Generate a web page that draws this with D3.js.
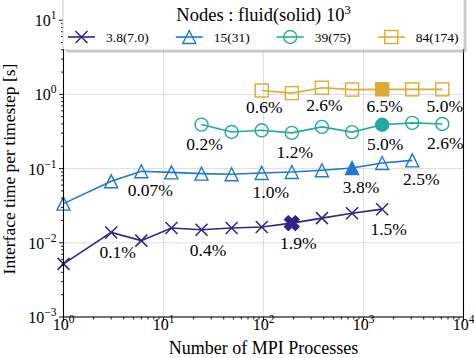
<!DOCTYPE html>
<meta charset="utf-8">
<script src="https://d3js.org/d3.v7.min.js"></script>
<style>
  body { margin: 0; background: #fff; }
</style>
<div id="chart"></div>
<script>

// MPI process counts used by the runs
var procs = [1, 3, 6, 12, 24, 48, 96, 192, 384, 768, 1536, 3072, 6144];

// legend labels, nodes fluid(solid) x 10^3
var seriesNames = ["3.8(7.0)", "15(31)", "39(75)", "84(174)"];

// interface time per timestep [s]
var purpleY = [0.0052, 0.0138, 0.0107, 0.0158, 0.0150, 0.0158, 0.0163, 0.0184, 0.0215, 0.0250, 0.0284];
var blueY   = [0.0337, 0.0674, 0.092, 0.089, 0.0856, 0.084, 0.0874, 0.090, 0.095, 0.102, 0.119, 0.129];
var tealY   = [0.392, 0.312, 0.328, 0.303, 0.365, 0.310, 0.390, 0.413, 0.400];
var goldY   = [1.13, 1.04, 1.23, 1.16, 1.17, 1.17, 1.17];

// first process count of each series
var firstProc = [1, 1, 24, 96];

// run shown with a filled marker
var filledProc = [192, 768, 1536, 1536];

// percentage notes under some points
var purpleNotes = [[3, "0.1%"], [24, "0.4%"], [192, "1.9%"], [1536, "1.5%"]];
var blueNotes   = [[6, "0.07%"], [96, "1.0%"], [768, "3.8%"], [3072, "2.5%"]];
var tealNotes   = [[24, "0.2%"], [192, "1.2%"], [1536, "5.0%"], [6144, "2.6%"]];
var goldNotes   = [[96, "0.6%"], [384, "2.6%"], [1536, "6.5%"], [6144, "5.0%"]];

var colors  = ["#332288", "#1f77d4", "#22aa9f", "#ddaa33"];
var markers = ["x", "tri", "circle", "square"];
var noteShift = [[6.5, 26], [9, 25], [3, 25], [2.5, 23]];

var allY = [purpleY, blueY, tealY, goldY];
var allNotes = [purpleNotes, blueNotes, tealNotes, goldNotes];

var W = 474, H = 358;
var left = 63.5, right = 463.5, bottom = 317, decade = 74.2;
var yMin = 1e-3, yMax = 20;

var x = d3.scaleLog().domain([1, 1e4]).range([left, right]);
var y = d3.scaleLog().domain([yMin, yMax])
  .range([bottom, bottom - decade * Math.log10(yMax / yMin)]);
var yTop = y(yMax);

var svg = d3.select("#chart").append("svg")
  .attr("width", W).attr("height", H)
  .attr("font-family", "'Liberation Serif', 'Times New Roman', serif");

// grid
var xMajor = [1, 10, 100, 1000, 10000];
var yMajor = [1e-3, 1e-2, 1e-1, 1, 10];
svg.append("g").selectAll("line").data(xMajor.slice(1, -1)).enter().append("line")
  .attr("x1", d => x(d)).attr("x2", d => x(d)).attr("y1", yTop).attr("y2", bottom)
  .attr("stroke", "#dedede").attr("stroke-width", 1);
svg.append("g").selectAll("line").data(yMajor.slice(1)).enter().append("line")
  .attr("y1", d => y(d)).attr("y2", d => y(d)).attr("x1", left).attr("x2", right)
  .attr("stroke", "#dedede").attr("stroke-width", 1);

function drawMarker(g, type, filled, color) {
  var fill = filled ? color : "none";
  if (type == "x") {
    if (filled) {
      g.append("path")
        .attr("d", "M-2.8,-7.8L2.8,-7.8L2.8,-2.8L7.8,-2.8L7.8,2.8L2.8,2.8L2.8,7.8L-2.8,7.8L-2.8,2.8L-7.8,2.8L-7.8,-2.8L-2.8,-2.8Z")
        .attr("transform", "rotate(45)")
        .attr("fill", color).attr("stroke", color).attr("stroke-width", 1).attr("stroke-linejoin", "round");
    } else {
      g.append("path").attr("d", "M-6,-6L6,6M-6,6L6,-6")
        .attr("stroke", color).attr("stroke-width", 1.5).attr("fill", "none");
    }
  } else if (type == "tri") {
    g.append("path").attr("d", "M0,-6.5L6.5,6.5L-6.5,6.5Z")
      .attr("stroke", color).attr("stroke-width", 1.4).attr("fill", fill);
  } else if (type == "circle") {
    g.append("circle").attr("r", 6.5)
      .attr("stroke", color).attr("stroke-width", 1.4).attr("fill", fill);
  } else {
    g.append("rect").attr("x", -6.5).attr("y", -6.5).attr("width", 13).attr("height", 13)
      .attr("stroke", color).attr("stroke-width", 1.4).attr("fill", fill);
  }
}

var line = d3.line().x(d => x(d[0])).y(d => y(d[1]));

allY.forEach(function(vals, i) {
  var start = procs.indexOf(firstProc[i]);
  var pts = vals.map(function(v, k) { return [procs[start + k], v]; });
  var g = svg.append("g");
  g.append("path").datum(pts).attr("d", line)
    .attr("fill", "none").attr("stroke", colors[i]).attr("stroke-width", 1.6);
  pts.forEach(function(p) {
    var m = g.append("g").attr("transform", "translate(" + x(p[0]) + "," + y(p[1]) + ")");
    drawMarker(m, markers[i], p[0] == filledProc[i], colors[i]);
  });
  allNotes[i].forEach(function(n) {
    var v = vals[procs.indexOf(n[0]) - start];
    g.append("text")
      .attr("x", x(n[0]) + noteShift[i][0]).attr("y", y(v) + noteShift[i][1])
      .attr("text-anchor", "middle").attr("font-size", 17.5)
      .text(n[1]);
  });
});

// frame
svg.append("rect").attr("x", left).attr("y", yTop).attr("width", right - left).attr("height", bottom - yTop)
  .attr("fill", "none").attr("stroke", "#000").attr("stroke-width", 1.1);

// ticks
function minors(lo, hi) {
  var out = [];
  for (var e = Math.floor(Math.log10(lo)); e <= Math.ceil(Math.log10(hi)); e++)
    for (var k = 2; k < 10; k++) {
      var v = k * Math.pow(10, e);
      if (v > lo && v <= hi * 1.0001) out.push(v);
    }
  return out;
}
var tk = svg.append("g").attr("stroke", "#000").attr("stroke-width", 0.9);
xMajor.forEach(d => tk.append("line").attr("x1", x(d)).attr("x2", x(d)).attr("y1", bottom).attr("y2", bottom + 4.5));
minors(1, 1e4).forEach(d => tk.append("line").attr("x1", x(d)).attr("x2", x(d)).attr("y1", bottom).attr("y2", bottom + 2.5));
yMajor.forEach(d => tk.append("line").attr("y1", y(d)).attr("y2", y(d)).attr("x1", left).attr("x2", left - 4.5));
minors(yMin, yMax).forEach(d => tk.append("line").attr("y1", y(d)).attr("y2", y(d)).attr("x1", left).attr("x2", left - 2.5));

function expOf(d) { var e = Math.round(Math.log10(d)); return (e < 0 ? "\u2212" : "") + Math.abs(e); }

xMajor.forEach(function(d) {
  var t = svg.append("text").attr("x", x(d)).attr("y", bottom + 12.8)
    .attr("text-anchor", "middle").attr("font-size", 16);
  t.append("tspan").text("10");
  t.append("tspan").attr("dy", -7).attr("font-size", 11.5).text(expOf(d));
});
yMajor.forEach(function(d) {
  var t = svg.append("text").attr("x", left - 7).attr("y", y(d) + 6)
    .attr("text-anchor", "end").attr("font-size", 16);
  t.append("tspan").text("10");
  t.append("tspan").attr("dy", -7).attr("font-size", 11.5).text(expOf(d));
});

// axis titles
svg.append("text").attr("x", (left + right) / 2).attr("y", 354)
  .attr("text-anchor", "middle").attr("font-size", 18).text("Number of MPI Processes");
svg.append("text").attr("transform", "translate(14.5,169) rotate(-90)")
  .attr("text-anchor", "middle").attr("font-size", 17.5).text("Interface time per timestep [s]");

// legend
var lg = svg.append("g");
var lx0 = 63, lx1 = 464, ly0 = -4, ly1 = 50;
lg.append("rect").attr("x", lx0 + 2.5).attr("y", ly0 + 2.5).attr("width", lx1 - lx0).attr("height", ly1 - ly0)
  .attr("rx", 3).attr("fill", "#999").attr("opacity", 0.55);
lg.append("rect").attr("x", lx0).attr("y", ly0).attr("width", lx1 - lx0).attr("height", ly1 - ly0)
  .attr("rx", 3).attr("fill", "#fff").attr("stroke", "#d0d0d0").attr("stroke-width", 1);
var ttl = lg.append("text").attr("x", (lx0 + lx1) / 2).attr("y", 20.5)
  .attr("text-anchor", "middle").attr("font-size", 18.5);
ttl.append("tspan").text("Nodes : fluid(solid) 10");
ttl.append("tspan").attr("dy", -7).attr("font-size", 12.5).text("3");

var cx = 68;
seriesNames.forEach(function(name, i) {
  lg.append("line").attr("x1", cx).attr("x2", cx + 27).attr("y1", 37).attr("y2", 37)
    .attr("stroke", colors[i]).attr("stroke-width", 1.6);
  var m = lg.append("g").attr("transform", "translate(" + (cx + 13.5) + ",37)");
  drawMarker(m, markers[i], false, colors[i]);
  var t = lg.append("text").attr("x", cx + 38).attr("y", 41.5).attr("font-size", 13.5).text(name);
  cx = cx + 38 + t.node().getComputedTextLength() + 27;
});

</script>
